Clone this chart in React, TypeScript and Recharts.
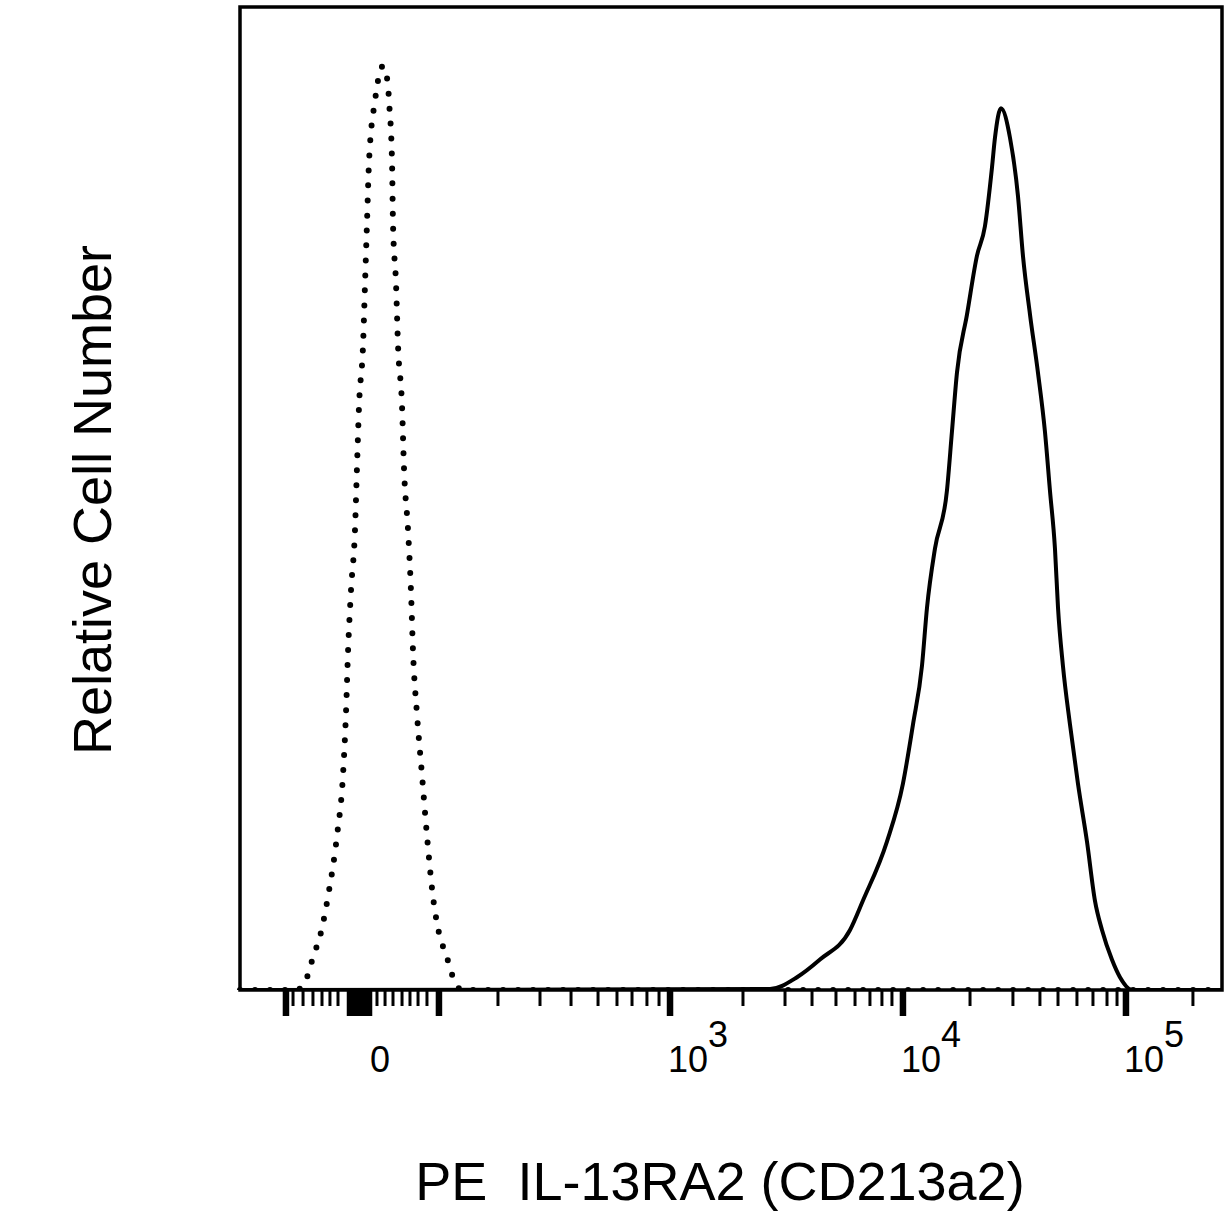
import { LineChart, Line, XAxis, YAxis, ReferenceArea } from "recharts";

// Display channel (0-1000 across the plot) on the biexponential PE axis
const dottedChannel = [
  0, 56, 64.2, 74.3, 83.5, 89.6, 98.8, 104.9, 107.9, 110.0, 113.0, 117.1,
  119.1, 121.2, 125.3, 127.3, 129.3, 131.4, 137.5, 145.6, 150.7, 151.7, 154.8,
  155.8, 158.9, 160.9, 165.0, 167.0, 171.1, 174.1, 176.2, 180.2, 185.3, 190.4,
  196.5, 201.6, 210.8, 216.9, 226.1, 1000,
];
const dottedCount = [
  0, 0, 0.4, 3.3, 6.3, 9.5, 15.7, 21.9, 28.1, 34.4, 40.6, 46.8, 53.1, 59.4,
  65.6, 71.8, 78.0, 84.3, 90.5, 94.0, 92.1, 90.5, 84.3, 78.0, 71.8, 65.6, 59.4,
  53.1, 46.8, 40.6, 34.4, 28.1, 21.9, 15.7, 9.5, 6.3, 3.3, 1.3, 0, 0,
];

const solidChannel = [
  0, 539.7, 567.2, 590.6, 621.2, 634.4, 658.8, 675.1, 685.3, 694.5, 699.6,
  707.7, 719.9, 725.0, 730.1, 740.3, 750.5, 758.6, 765.8, 768.8, 774.9, 784.1,
  792.2, 797.3, 804.5, 812.6, 819.7, 824.8, 829.9, 833.0, 838.0, 845.2, 853.3,
  862.5, 870.6, 877.8, 887.9, 896.1, 908.3, 1000,
];
const solidCount = [
  0, 0.1, 1.3, 3.1, 6.1, 9.1, 15.1, 21.0, 27.0, 33.0, 38.9, 44.9, 50.8, 56.8,
  62.8, 68.7, 74.7, 77.7, 83.7, 86.7, 89.7, 86.7, 80.8, 74.7, 68.7, 62.8, 56.8,
  50.8, 44.9, 38.9, 33.0, 27.0, 21.0, 15.1, 9.1, 6.1, 3.1, 1.3, 0, 0,
];

// axis ticks (channel positions)
const majorTicks = [46.8, 202.6, 437.9, 675.1, 902.2];
const zeroTicks = [111.0, 114.0, 117.1, 120.2, 123.2, 126.3, 129.3, 132.4];
const minorTicks = [
  54.0, 64.2, 74.3, 83.5, 91.6, 99.8, 139.5, 147.7, 155.8, 165.0, 173.1,
  181.3, 190.4, 262.7, 305.5, 337.1, 364.6, 383.9, 399.2, 414.4, 426.7, 512.2,
  555.0, 582.5, 606.9, 626.3, 641.5, 653.7, 663.9, 743.4, 787.1, 814.6, 833.0,
  852.3, 868.6, 882.9, 893.1, 970.4,
];
const zeroLabelAt = 142.6;
const decadeLabelAt = [437.9, 675.1, 902.2];
const decadeExponents = ["3", "4", "5"];

const dottedData = dottedChannel.map((ch, i) => ({ ch, count: dottedCount[i] }));
const solidData = solidChannel.map((ch, i) => ({ ch, count: solidCount[i] }));
const allTicks = [...majorTicks, ...zeroTicks, ...minorTicks, zeroLabelAt].sort(
  (a, b) => a - b
);

const FONT = "'Liberation Sans', Arial, sans-serif";

function AxisTick(props: any) {
  const { x, y, payload } = props;
  const v = payload.value;
  const parts = [];
  if (majorTicks.includes(v)) {
    parts.push(<line key="t" x1={x} x2={x} y1={y} y2={y + 26} stroke="#000" strokeWidth={6.5} />);
  } else if (zeroTicks.includes(v)) {
    parts.push(<line key="t" x1={x} x2={x} y1={y} y2={y + 26} stroke="#000" strokeWidth={4.5} />);
  } else if (minorTicks.includes(v)) {
    parts.push(<line key="t" x1={x} x2={x} y1={y} y2={y + 16} stroke="#000" strokeWidth={3} />);
  }
  if (v === zeroLabelAt) {
    parts.push(
      <text key="l" x={x} y={y + 82} textAnchor="middle" fontSize={36} fontFamily={FONT} fill="#000">
        0
      </text>
    );
  }
  const di = decadeLabelAt.indexOf(v);
  if (di >= 0) {
    parts.push(
      <text key="l" x={x - 2} y={y + 82} textAnchor="start" fontSize={36} fontFamily={FONT} fill="#000">
        10
        <tspan dy={-25}>{decadeExponents[di]}</tspan>
      </text>
    );
  }
  return <g>{parts}</g>;
}

const xLabel = () => (
  <text
    x={720}
    y={1200}
    textAnchor="middle"
    fontSize={54}
    fontFamily={FONT}
    fill="#000"
    xmlSpace="preserve"
    style={{ whiteSpace: "pre" }}
  >
    {"PE  IL-13RA2 (CD213a2)"}
  </text>
);

const yLabel = () => (
  <text
    transform="translate(111,500) rotate(-90)"
    textAnchor="middle"
    fontSize={54}
    fontFamily={FONT}
    fill="#000"
  >
    Relative Cell Number
  </text>
);

export default function App() {
  return (
    <div style={{ width: 1230, height: 1230, background: "#fff" }}>
      <style>{"body{margin:0;background:#fff}"}</style>
      <LineChart
        width={1230}
        height={1230}
        margin={{ top: 7, right: 8, left: 0, bottom: 180 }}
      >
        <XAxis
          type="number"
          dataKey="ch"
          domain={[0, 1000]}
          ticks={allTicks}
          interval={0}
          tick={<AxisTick />}
          tickLine={false}
          axisLine={false}
          tickSize={0}
          tickMargin={0}
          height={60}
          label={xLabel}
        />
        <YAxis
          type="number"
          domain={[0, 100]}
          allowDataOverflow
          width={240}
          tick={false}
          tickLine={false}
          axisLine={false}
          label={yLabel}
        />
        <ReferenceArea
          x1={0}
          x2={1000}
          y1={0}
          y2={100}
          fill="none"
          stroke="#000"
          strokeWidth={3.5}
        />
        <Line
          data={dottedData}
          dataKey="count"
          type="monotone"
          stroke="#000"
          strokeWidth={6}
          strokeDasharray="0 15"
          strokeLinecap="round"
          dot={false}
          activeDot={false}
          isAnimationActive={false}
        />
        <Line
          data={solidData}
          dataKey="count"
          type="monotone"
          stroke="#000"
          strokeWidth={4}
          dot={false}
          activeDot={false}
          isAnimationActive={false}
        />
      </LineChart>
    </div>
  );
}
